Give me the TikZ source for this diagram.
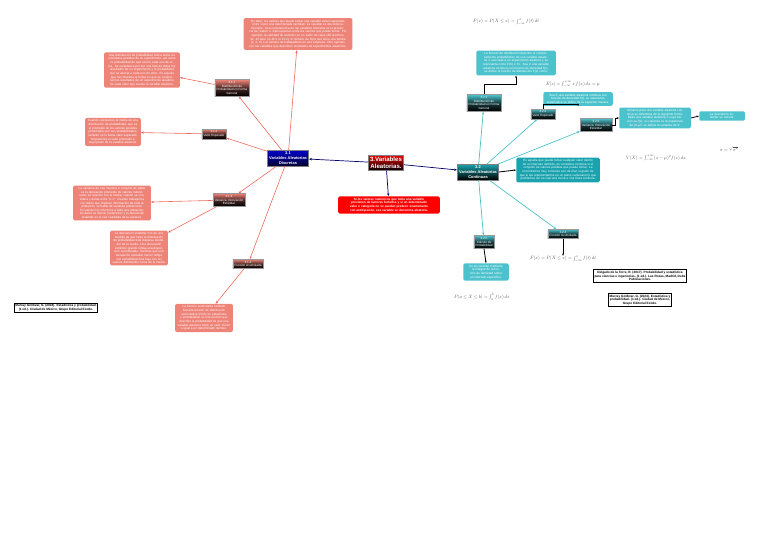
\documentclass[tikz,border=0pt]{standalone}
\usepackage{fontspec}
\setmainfont{Liberation Sans}
\usetikzlibrary{arrows.meta}
\begin{document}
\begin{tikzpicture}[x=0.03cm,y=-0.03cm,
 tx/.style={font=\fontsize{2.6}{3.1}\selectfont,align=center,text=white,rounded corners=1.2pt,inner sep=1.5pt},
 rtext/.style={tx,fill=salmonc},
 ttext/.style={tx,fill=tealc},
 rsub/.style={tx,rounded corners=0pt,draw=white!60!black,top color=salmonc,bottom color=black,middle color=black!70!salmonc},
 tsub/.style={tx,rounded corners=0pt,draw=white!60!black,top color=tealc,bottom color=black,middle color=black!70!tealc},
 ra/.style={draw=redl,-{Stealth[length=2.5pt]},line width=0.5pt},
 ta/.style={draw=tealc,-{Stealth[length=2.5pt]},line width=0.6pt},
 ba/.style={draw=black,-{Stealth[length=2pt]},line width=0.7pt},
 fm/.style={scale=0.4,text=black!70,inner sep=0pt},
 refb/.style={draw=black,line width=0.8pt,font=\bfseries\fontsize{2.7}{3.2}\selectfont,align=center,inner sep=1pt}]
\definecolor{salmonc}{HTML}{EE8378}
\definecolor{redl}{HTML}{F0695C}
\definecolor{tealc}{HTML}{4CC2CC}
\definecolor{dtealc}{HTML}{1AA3AE}
\useasboundingbox (0,0) rectangle (768,543);
% main
\node[tx,rounded corners=0pt,draw=gray,top color=red!90!black,bottom color=black,font=\bfseries\fontsize{5.2}{6}\selectfont] (main) at (386,163) {3.Variables\\Aleatorias.};
\node[tx,fill=red,font=\bfseries\fontsize{2.6}{3.1}\selectfont,text width=98*0.03cm] (def) at (389,205) {Si los valores numéricos que toma una variable provienen de factores fortuitos y si un determinado valor o categoría no se pueden predecir exactamente con anticipación, esa variable se denomina aleatoria.};
\node[tx,rounded corners=0pt,draw=gray,top color=blue!80!black,bottom color=black!80!blue,font=\bfseries\fontsize{3.4}{4}\selectfont] (d31) at (288,158) {3.1\\Variables Aleatorias\\Discretas};
\node[tx,rounded corners=0pt,draw=gray,top color=dtealc,bottom color=black,font=\bfseries\fontsize{3.4}{4}\selectfont] (d32) at (478,172) {3.2\\Variables Aleatorias\\Continuas};
\draw[draw=black!60!blue,-{Stealth[length=2.5pt]},line width=0.6pt] (main) -- (d31);
\draw[draw=black!60!blue,-{Stealth[length=2.5pt]},line width=0.6pt] (main) -- (d32);
\draw[draw=black!60!blue,-{Stealth[length=2.5pt]},line width=0.6pt] (main) -- (def);
% left side
\node[rtext,text width=105*0.03cm] (ttop) at (298,34) {Es decir, los valores que puede tomar una variable están separados entre sí por una determinada cantidad. La variable es discontinua. Ejemplo: Una característica de las variables discretas es la presencia de "saltos" o interrupciones entre los valores que puede tomar. Por ejemplo, la cantidad de alumnos en un salón de clase (40 alumnos, 41, 42 pero no 41.5 ni 41.2); el número de hijos que tiene una familia (1, 2, 3) o el número de trabajadores en una empresa. Otro ejemplo son las variables que describen resultados de experimentos aleatorios.};
\node[rtext,text width=72*0.03cm] (t311) at (142,70) {Una distribución de probabilidad indica todos los resultados posibles de un experimento, así como la probabilidad de que ocurra cada uno de ellos. Se caracteriza por ser una lista de todos los resultados de un experimento y la probabilidad que se asocia a cada uno de ellos. Es aquella que nos muestra la forma en que se comportan los resultados de un experimento aleatorio de cada valor que asume la variable aleatoria.};
\node[rsub] (s311) at (232,88) {3.1.1\\Distribución de\\Probabilidad en Forma\\General};
\node[rtext,text width=52*0.03cm] (t312) at (113,132) {Cuando calculamos la media de una distribución de probabilidad, que es el promedio de los valores posibles ponderados por sus probabilidades, también se le llama valor esperado. Representa el valor promedio a largo plazo de la variable aleatoria.};
\node[rsub] (s312) at (214,134) {3.1.2\\Valor Esperado};
\node[rtext,text width=74*0.03cm] (t313) at (112,203) {La varianza de una muestra o conjunto de datos es la desviación promedio de valores individuales en relación con la media, cuando se considera y divide entre "n-1". Cuando trabajamos con datos que implican información de toda la población, se habla de varianza poblacional. Si cuando nos referimos a toda una población, los datos se llaman parámetros y la desviación estándar es la raíz cuadrada de la varianza.};
\node[rsub] (s313) at (229,200) {3.1.3\\Varianza, Desviación\\Estándar};
\node[rtext,text width=54*0.03cm] (t31a) at (139,248) {La desviación estándar nos da una medida de qué tanto la distribución de probabilidad está dispersa alrededor de la media. Una desviación estándar grande refleja una dispersión considerable, mientras que una desviación estándar menor refleja una variabilidad más baja con los valores distribuidos cerca de la media.};
\node[rsub] (s314) at (248,264) {3.1.4\\Función Acumulada};
\node[rtext,text width=54*0.03cm] (t314) at (204,318) {La función acumulada, también llamada función de distribución acumulativa (FDA) en estadística y probabilidad, es una función que describe la probabilidad de que una variable aleatoria tome un valor menor o igual a un determinado número.};
\node[refb] (refl) at (56,308) {Murray Goldivar, G. (2024). Estadística y probabilidad.\\(1 ed.). Ciudad de México, Grupo Editorial Exodo.};
\draw[ra] (d31) -- (ttop);
\draw[ra] (d31) -- (s311); \draw[ra] (s311) -- (t311);
\draw[ra] (d31) -- (s312); \draw[ra] (s312) -- (t312);
\draw[ra] (d31) -- (s313); \draw[ra] (s313) -- (t313);
\draw[ra] (s313) -- (t31a);
\draw[ra] (d31) -- (s314); \draw[ra] (s314) -- (t314);
% right side
\node[fm] (f1) at (506,22) {$F(x)=P(X\le x)=\int_{-\infty}^{x} f(t)\,dt$};
\node[ttext,text width=76*0.03cm] (t321) at (516,63) {La función de distribución describe el comportamiento probabilístico de una variable aleatoria X asociada a un experimento aleatorio y se representa como F(X) o Fx. Sea X una variable aleatoria continua con función de densidad f(x), se define la función de distribución F(x) como:};
\node[tsub] (s321) at (484,103) {3.2.1\\Distribución de\\Probabilidad en Forma\\General};
\node[fm] (f2) at (573,84) {$E[x]=\int_{-\infty}^{+\infty} x\,f(x)\,dx=\mu$};
\node[ttext,text width=66*0.03cm] (t322) at (578,99) {Sea X una variable aleatoria continua con función de densidad f(x), su esperanza matemática se define de la siguiente manera:};
\node[tsub] (s322) at (543,114) {3.2.2\\Valor Esperado};
\node[tsub] (s323) at (596,125) {3.2.3\\Varianza, Desviación\\Estándar};
\node[ttext,text width=68*0.03cm] (t323) at (655,118) {Varianza para una variable aleatoria continua se determina de la siguiente forma: Dada una variable aleatoria X cuya función es f(x), su varianza es la esperanza de (X-µ)², se define la varianza de X:};
\node[ttext,text width=42*0.03cm] (t323b) at (722,116) {La desviación estándar se calcula:};
\node[fm] (f3) at (656,158) {$V(X)=\int_{-\infty}^{+\infty}(x-\mu)^2 f(x)\,dx$};
\node[fm] (f4) at (729,149) {$\sigma=\sqrt{\sigma^2}$};
\node[tx,fill=dtealc,text width=80*0.03cm] (t32) at (558,170) {Es aquella que puede tomar cualquier valor dentro de un intervalo definido, es considera continua si el conjunto de valores posibles que puede tomar. La encontramos muy comunes son de tirar, si grafic de que si las representamos en un plano cartesiano lo que podríamos ver es casi una curva o una línea continua.};
\node[tsub] (s325) at (484,242) {3.2.5\\Cálculo de\\Probabilidad};
\node[ttext,text width=42*0.03cm] (t325) at (486,272) {Se encuentran mediante la integral de la función de densidad sobre un intervalo específico.};
\node[fm] (f5) at (482,297) {$P(a\le X\le b)=\int_a^b f(x)\,dx$};
\node[tsub] (s324) at (563,234) {3.2.4\\Función Acumulada};
\node[fm] (f6) at (563,259) {$F(x)=P(X\le x)=\int_{-\infty}^{x} f(t)\,dt$};
\node[refb] (ref1) at (640,276) {Delgado de la Torre, R. (2017). Probabilidad y estadística\\para ciencias e ingenierías. (1 ed.). Las Rozas, Madrid, Delta\\Publicaciones.};
\node[refb] (ref2) at (640,300) {Murray Goldivar, G. (2024). Estadística y\\probabilidad. (1 ed.). Ciudad de México,\\Grupo Editorial Exodo.};
\draw[ta] (d32) -- (s321);
\draw[ta] (d32) -- (s322);
\draw[ta] (d32) -- (s323);
\draw[ta] (d32) -- (s325);
\draw[ta] (d32) -- (s324);
\draw[ba] (d32.east) -- (t32.west);
\draw[ba] (s321.north) |- ++(0,-10) -| (t321.south);
\draw[ba] (s322.north) |- ++(0,-4) -| (t322.south);
\draw[ba] (s323.east) -- ++(3,0) |- (t323.west);
\draw[ba] (t323.east) -- (t323b.west);
\draw[ba] (s325.south) -- (t325.north);
\draw[ba] (s324.south) -- ++(0,8) -- (f6.north);
\end{tikzpicture}
\end{document}
